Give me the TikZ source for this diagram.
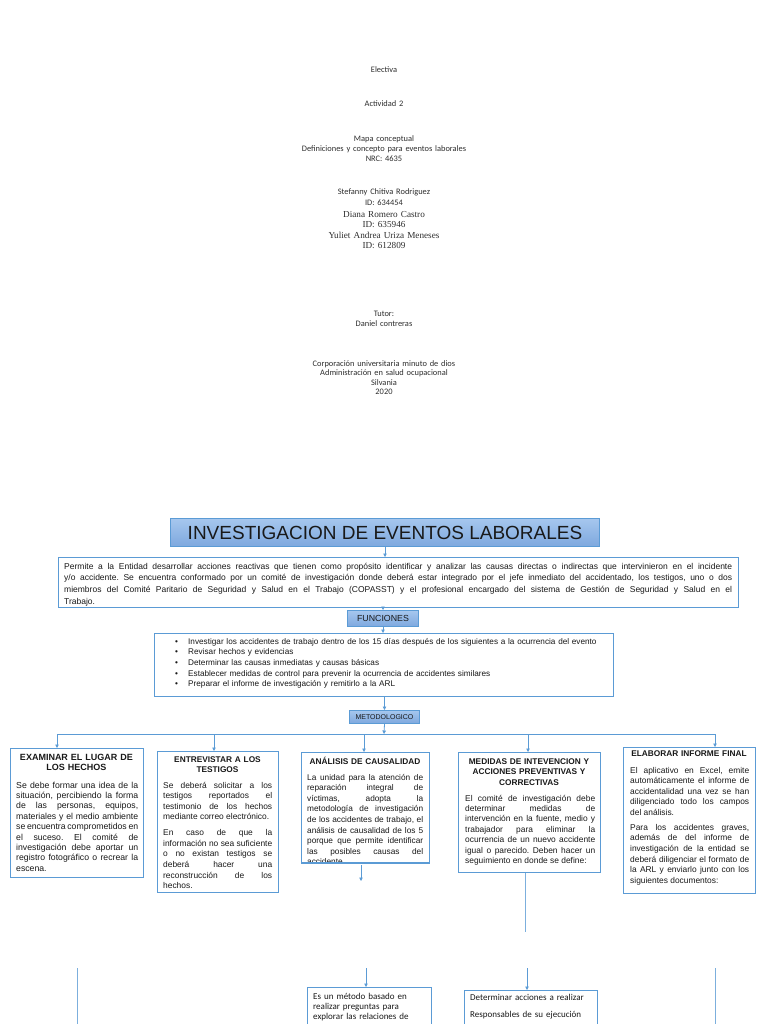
\documentclass[tikz,border=0pt]{standalone}
\usepackage{fontspec}
\setmainfont{Liberation Sans}
\newfontfamily\carl{Carlito}
\newfontfamily\tms{Liberation Serif}
\usetikzlibrary{arrows.meta}
\definecolor{bl}{RGB}{91,155,213}
\definecolor{bltop}{RGB}{166,199,238}
\definecolor{blbot}{RGB}{126,168,222}
\definecolor{txt}{RGB}{25,25,25}
\definecolor{toptxt}{RGB}{45,45,45}
\frenchspacing
\begin{document}
\begin{tikzpicture}[x=1pt,y=-1pt,
  toptext/.style={inner sep=0pt, text width=320pt, align=center, text=toptxt, font=\carl\fontsize{8.4}{10.2}\selectfont},
  serifstyle/.style={inner sep=0pt, text width=320pt, align=center, text=toptxt, font=\tms\fontsize{9.2}{10.5}\selectfont},
  bluebox/.style={draw=bl, line width=1pt, top color=bltop, bottom color=blbot, inner sep=0pt, text=txt},
  framebox/.style={draw=bl, line width=1.1pt, fill=white, inner sep=0pt},
  bodytext/.style={inner sep=0pt, align=justify, text=txt, font=\fontsize{8.4}{10.5}\selectfont},
  headtext/.style={inner sep=0pt, align=center, text=txt, font=\bfseries\fontsize{8.3}{10.5}\selectfont},
  lowtext/.style={inner sep=0pt, align=left, text=txt, font=\carl\fontsize{9}{10}\selectfont},
  arr/.style={draw=bl, line width=0.8pt, -{Triangle[length=3.5pt,width=3.5pt]}},
  plainline/.style={draw=bl, line width=0.8pt},
  thinline/.style={draw=bl!80, line width=0.6pt}
]
\useasboundingbox (0,0) rectangle (768,1024);

% ---------- cover text ----------
\node[toptext, anchor=base] (t1) at (384,73) {Electiva};
\node[toptext, anchor=base] (t2) at (384,107) {Actividad 2};
\node[toptext, anchor=base] (t3) at (384,141.5) {Mapa conceptual\\Definiciones y concepto para eventos laborales\\NRC: 4635};
\node[toptext, anchor=base] (t4) at (384,195) {Stefanny Chitiva Rodriguez\\ID: 634454};
\node[serifstyle, anchor=base] (t5) at (384,217.5) {Diana Romero Castro\\ID: 635946\\Yuliet Andrea Uriza Meneses\\ID: 612809};
\node[toptext, anchor=base] (t6) at (384,316) {Tutor:\\Daniel contreras};
\node[toptext, anchor=base, font=\carl\fontsize{8.4}{9.6}\selectfont] (t7) at (384,366) {Corporación universitaria minuto de dios\\Administración en salud ocupacional\\Silvania\\2020};

% ---------- title ----------
\node[bluebox, minimum width=429pt, minimum height=28pt, anchor=north west, font=\fontsize{19}{22}\selectfont] (title) at (170,518) {INVESTIGACION DE EVENTOS LABORALES};

% ---------- definition paragraph ----------
\node[framebox, minimum width=680pt, minimum height=50pt, anchor=north west] (para) at (58,557) {};
\node[bodytext, text width=668pt, anchor=base west, font=\fontsize{8.5}{11.7}\selectfont] (paratxt) at (64,569) {Permite a la Entidad desarrollar acciones reactivas que tienen como propósito identificar y analizar las causas directas o indirectas que intervinieron en el incidente\linebreak
y/o accidente. Se encuentra conformado por un comité de investigación donde deberá estar integrado por el jefe inmediato del accidentado, los testigos, uno o dos\linebreak
miembros del Comité Paritario de Seguridad y Salud en el Trabajo (COPASST) y el profesional encargado del sistema de Gestión de Seguridad y Salud en el\linebreak
Trabajo.};

% ---------- funciones ----------
\node[bluebox, minimum width=71pt, minimum height=16pt, anchor=north west, font=\fontsize{8.8}{10}\selectfont] (fun) at (347,610) {FUNCIONES};
\node[framebox, minimum width=459pt, minimum height=63pt, anchor=north west] (funbox) at (154,633) {};
\node[inner sep=0pt, text width=430pt, align=left, anchor=base west, text=txt, font=\fontsize{8.2}{10.7}\selectfont] (funtxt) at (175,644) {%
\makebox[13pt][l]{\textbullet}Investigar los accidentes de trabajo dentro de los 15 días después de los siguientes a la ocurrencia del evento\\
\makebox[13pt][l]{\textbullet}Revisar hechos y evidencias\\
\makebox[13pt][l]{\textbullet}Determinar las causas inmediatas y causas básicas\\
\makebox[13pt][l]{\textbullet}Establecer medidas de control para prevenir la ocurrencia de accidentes similares\\
\makebox[13pt][l]{\textbullet}Preparar el informe de investigación y remitirlo a la ARL};

% ---------- metodologico ----------
\node[bluebox, minimum width=70pt, minimum height=13pt, anchor=north west, font=\fontsize{7}{8}\selectfont] (met) at (349,710) {METODOLOGICO};

% ---------- five boxes ----------
\node[framebox, minimum width=133pt, minimum height=129pt, anchor=north west] (b1) at (10,748) {};
\node[framebox, minimum width=121pt, minimum height=141pt, anchor=north west] (b2) at (157,751) {};
\node[framebox, minimum width=128pt, minimum height=110pt, anchor=north west] (b3) at (301,752) {};
\node[framebox, minimum width=142pt, minimum height=120pt, anchor=north west] (b4) at (458,752) {};
\node[framebox, minimum width=132pt, minimum height=146pt, anchor=north west] (b5) at (623,747) {};

% box 1
\node[headtext, text width=130pt, anchor=base, font=\bfseries\fontsize{9}{10.5}\selectfont] (h1) at (76.5,760) {EXAMINAR EL LUGAR DE\\LOS HECHOS};
\node[bodytext, text width=122pt, anchor=base west, font=\fontsize{8.7}{10.4}\selectfont] (x1) at (16,788) {Se debe formar una idea de la\linebreak
situación, percibiendo la forma\linebreak
de las personas, equipos,\linebreak
materiales y el medio ambiente\linebreak
se encuentra comprometidos en\linebreak
el suceso. El comité de\linebreak
investigación debe aportar un\linebreak
registro fotográfico o recrear la\linebreak
escena.};

% box 2
\node[headtext, text width=118pt, anchor=base] (h2) at (217.5,762) {ENTREVISTAR A LOS\\TESTIGOS};
\node[bodytext, text width=109pt, anchor=base west, font=\fontsize{8.4}{10.6}\selectfont] (x2) at (163,788) {Se deberá solicitar a los\linebreak
testigos reportados el\linebreak
testimonio de los hechos\linebreak
mediante correo electrónico.\par\vspace{5.3pt}
En caso de que la\linebreak
información no sea suficiente\linebreak
o no existan testigos se\linebreak
deberá hacer una\linebreak
reconstrucción de los\linebreak
hechos.};

% box 3 (text clipped by the frame)
\node[headtext, text width=126pt, anchor=base] (h3) at (365,764) {ANÁLISIS DE CAUSALIDAD};
\begin{scope}
\clip (301,752) rectangle (429,861.5);
\node[bodytext, text width=116pt, anchor=base west, font=\fontsize{8.3}{10.6}\selectfont] (x3) at (307,780) {La unidad para la atención de\linebreak
reparación integral de\linebreak
víctimas, adopta la\linebreak
metodología de investigación\linebreak
de los accidentes de trabajo, el\linebreak
análisis de causalidad de los 5\linebreak
porque que permite identificar\linebreak
las posibles causas del\linebreak
accidente};
\end{scope}
\draw[draw=bl, line width=1.1pt] (b3.south west) -- (b3.south east);

% box 4
\node[headtext, text width=140pt, anchor=base] (h4) at (529,764) {MEDIDAS DE INTEVENCION Y\\ACCIONES PREVENTIVAS Y\\CORRECTIVAS};
\node[bodytext, text width=130pt, anchor=base west, font=\fontsize{8.4}{10.4}\selectfont] (x4) at (465,801) {El comité de investigación debe\linebreak
determinar medidas de\linebreak
intervención en la fuente, medio y\linebreak
trabajador para eliminar la\linebreak
ocurrencia de un nuevo accidente\linebreak
igual o parecido. Deben hacer un\linebreak
seguimiento en donde se define:};

% box 5
\node[headtext, text width=130pt, anchor=base] (h5) at (689,756) {ELABORAR INFORME FINAL};
\node[bodytext, text width=119pt, anchor=base west, font=\fontsize{8.4}{10.6}\selectfont] (x5) at (630,773) {El aplicativo en Excel, emite\linebreak
automáticamente el informe de\linebreak
accidentalidad una vez se han\linebreak
diligenciado todo los campos\linebreak
del análisis.\par\vspace{4.2pt}
Para los accidentes graves,\linebreak
además de del informe de\linebreak
investigación de la entidad se\linebreak
deberá diligenciar el formato de\linebreak
la ARL y enviarlo junto con los\linebreak
siguientes documentos:};

% ---------- lower boxes ----------
\node[framebox, minimum width=124pt, minimum height=60pt, anchor=north west] (b6) at (307,987) {};
\node[lowtext, text width=118pt, anchor=base west] (x6) at (313,999.5) {Es un método basado en\\realizar preguntas para\\explorar las relaciones de};
\node[framebox, minimum width=133pt, minimum height=60pt, anchor=north west] (b7) at (464,990) {};
\node[lowtext, text width=125pt, anchor=base west] (x7) at (470,1000) {Determinar acciones a realizar\\[7.8pt]Responsables de su ejecución};

% ---------- connectors ----------
\draw[arr] (title.south) -- (title.south |- para.north);
\draw[arr] (fun.north |- para.south) -- (fun.north);
\draw[arr] (fun.south) -- (fun.south |- funbox.north);
\draw[arr] (met.north |- funbox.south) -- (met.north);

\coordinate (hub) at (384,734);
\coordinate (d1) at (57,734);
\coordinate (d2) at (214,734);
\coordinate (d3) at (364,734);
\coordinate (d4) at (528,734);
\coordinate (d5) at (715,734);
\draw[arr] (met.south) -- (hub);
\draw[plainline] (d1) -- (d5);
\draw[arr] (d1) -- (d1 |- b1.north);
\draw[arr] (d2) -- (d2 |- b2.north);
\draw[arr] (d3) -- (d3 |- b3.north);
\draw[arr] (d4) -- (d4 |- b4.north);
\draw[arr] (d5) -- (d5 |- b5.north);

\coordinate (a3s) at (361,865);
\coordinate (a3e) at (361,881);
\draw[arr] (a3s) -- (a3e);
\coordinate (m4s) at (525,873);
\coordinate (m4e) at (525,932);
\draw[thinline] (m4s) -- (m4e);

\coordinate (lL) at (77,968);
\coordinate (lLe) at (77,1030);
\coordinate (lR) at (715,968);
\coordinate (lRe) at (715,1030);
\draw[thinline] (lL) -- (lLe);
\draw[thinline] (lR) -- (lRe);
\coordinate (s6) at (366,968);
\coordinate (s7) at (527,968);
\draw[arr] (s6) -- (s6 |- b6.north);
\draw[arr] (s7) -- (s7 |- b7.north);
\end{tikzpicture}
\end{document}
